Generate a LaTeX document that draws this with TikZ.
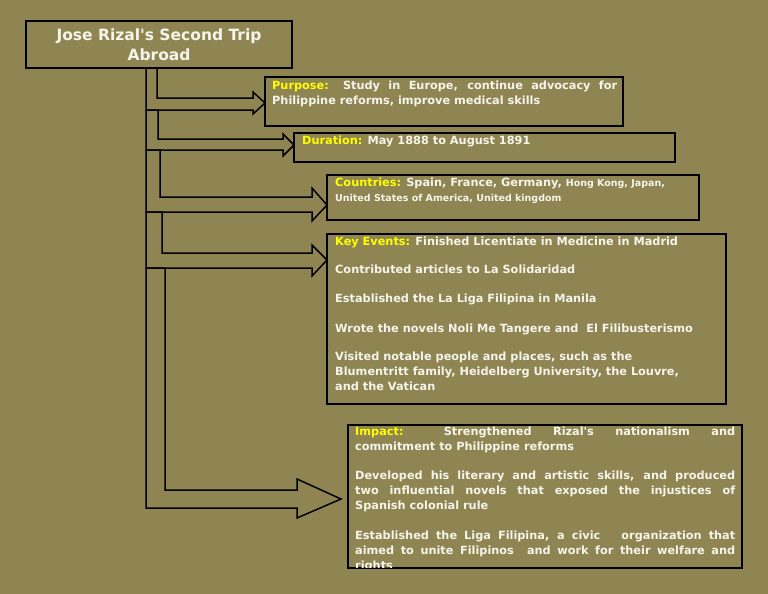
\documentclass[tikz,border=0pt]{standalone}
\usepackage{fontspec}
\setmainfont{DejaVu Sans}
\definecolor{bg}{RGB}{143,133,82}
\definecolor{txt}{RGB}{245,245,235}
\definecolor{lab}{RGB}{255,255,0}
\begin{document}
\begin{tikzpicture}[x=1pt,y=-1pt,
  box/.style={draw=black,line width=1.5pt,fill=bg},
  barrow/.style={draw=black,line width=1.5pt,fill=bg,line join=miter},
  tx/.style={inner sep=0pt,anchor=north west,text=txt,font=\fontsize{11.3}{15}\selectfont\bfseries},
  sm/.style={}]
\fill[bg] (0,0) rectangle (768,594);
\useasboundingbox (0,0) rectangle (768,594);
% arrows (drawn first, boxes on top)
\draw[barrow] (146,68) -- (157,68) -- (157,98) -- (253,98) -- (253,92) -- (265,103) -- (253,114) -- (253,110) -- (146,110) -- cycle;
\draw[barrow] (146,110) -- (158,110) -- (158,139) -- (283,139) -- (283,134) -- (294,145) -- (283,156) -- (283,150) -- (146,150) -- cycle;
\draw[barrow] (146,150) -- (160,150) -- (160,197) -- (312,197) -- (312,188) -- (327,205) -- (312,221) -- (312,212) -- (146,212) -- cycle;
\draw[barrow] (146,212) -- (162,212) -- (162,253) -- (312,253) -- (312,245) -- (327,260) -- (312,276) -- (312,268) -- (146,268) -- cycle;
\draw[barrow] (146,268) -- (165,268) -- (165,490) -- (297,490) -- (297,479) -- (341,499) -- (297,518) -- (297,508) -- (146,508) -- cycle;
% boxes
\draw[box] (26,21) rectangle (292,68) node[midway,text=txt,align=center,font=\fontsize{15.5}{20}\selectfont\bfseries] (title) {Jose Rizal\textquotesingle s Second Trip\\Abroad};
\draw[box] (265,77) rectangle (623,126) coordinate (purpose);
\draw[box] (294,133) rectangle (675,162) coordinate (duration);
\draw[box] (327,175) rectangle (699,220) coordinate (countries);
\draw[box] (327,234) rectangle (726,404) coordinate (events);
\draw[box] (348,425) rectangle (742,568) coordinate (impact);
% texts
\node[tx,text width=345,align=justify] (tp) at (272,80.5) {\textcolor{lab}{Purpose:} Study in Europe, continue advocacy for\linebreak Philippine reforms, improve medical skills};
\node[tx] (td) at (302,136) {\textcolor{lab}{Duration:} May 1888 to August 1891};
\node[tx,align=left] (tc) at (335,178) {\textcolor{lab}{Countries:} Spain, France, Germany, {\fontsize{9.5}{14}\selectfont Hong Kong, Japan,}\\{\fontsize{9.5}{14}\selectfont United States of America, United kingdom}};
\node[tx] (k1) at (335,236.5) {\textcolor{lab}{Key Events:} Finished Licentiate in Medicine in Madrid};
\node[tx] (k2) at (335,265) {Contributed articles to La Solidaridad};
\node[tx] (k3) at (335,294) {Established the La Liga Filipina in Manila};
\node[tx] (k4) at (335,324) {Wrote the novels Noli Me Tangere and\ \ El Filibusterismo};
\node[tx,align=left] (k5) at (335,352) {Visited notable people and places, such as the\\Blumentritt family, Heidelberg University, the Louvre,\\and the Vatican};
\begin{scope}
\clip (349,426) rectangle (741,567);
\node[tx,text width=380,align=justify] (i1) at (355,427) {\textcolor{lab}{Impact:} Strengthened Rizal\textquotesingle s nationalism and\linebreak commitment to Philippine reforms};
\node[tx,text width=380,align=justify] (i2) at (355,471) {Developed his literary and artistic skills, and produced\linebreak two influential novels that exposed the injustices of\linebreak Spanish colonial rule};
\node[tx,text width=380,align=justify] (i3) at (355,531) {Established the Liga Filipina, a civic\ \ \ organization that\linebreak aimed to unite Filipinos\ \ and work for their welfare and\linebreak rights};
\end{scope}
\end{tikzpicture}
\end{document}
